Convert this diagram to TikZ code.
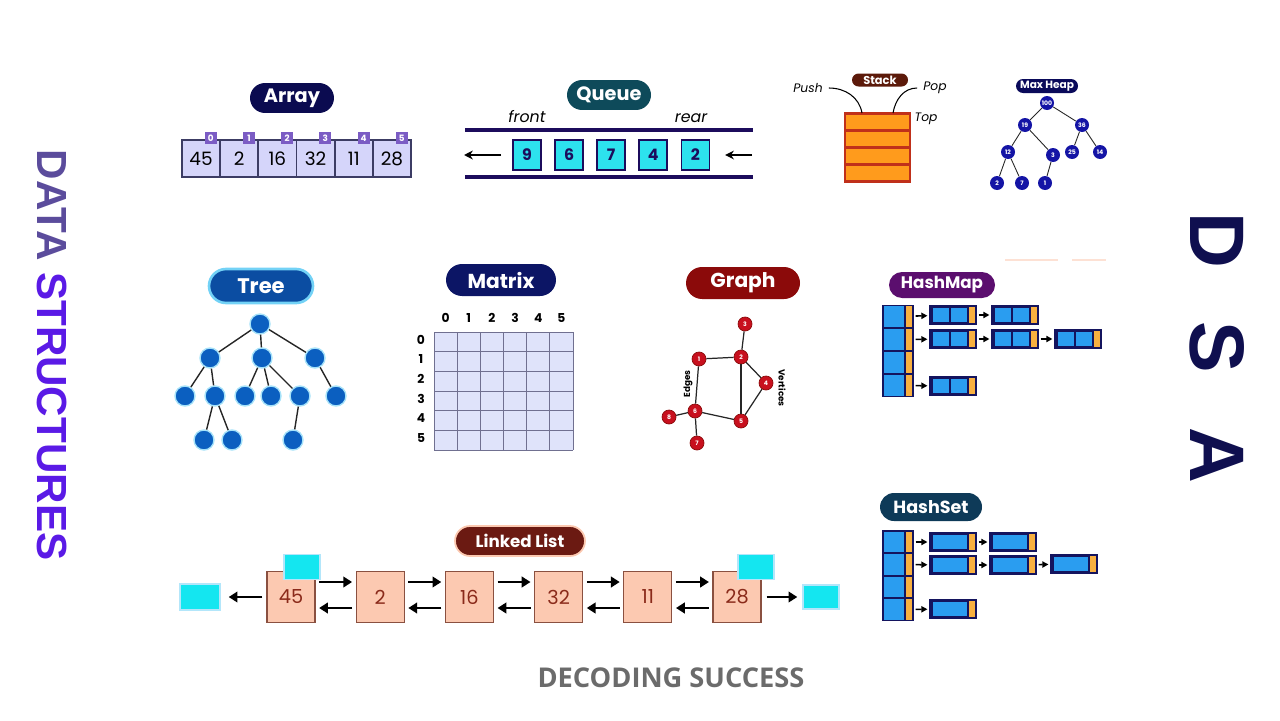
\documentclass[tikz,border=0pt]{standalone}
\usepackage{fontspec}
\setmainfont{Poppins}
\newfontfamily\arialfont{Liberation Sans}
\newfontfamily\opensans{Open Sans}
\usepackage{tikz}
\usetikzlibrary{positioning,arrows.meta}

\definecolor{arraynavy}{HTML}{0B0B50}
\definecolor{queueteal}{HTML}{0E4A5A}
\definecolor{stackbrown}{HTML}{5C1A0A}
\definecolor{heapnavy}{HTML}{0A0A5A}
\definecolor{treeblue}{HTML}{0B4DA2}
\definecolor{matrixnavy}{HTML}{0C1565}
\definecolor{graphred}{HTML}{8B0A0A}
\definecolor{hmpurple}{HTML}{5B0E6E}
\definecolor{hsteal}{HTML}{0E3A58}
\definecolor{llbrown}{HTML}{6B1A12}
\definecolor{cellfill}{HTML}{D5D5FA}
\definecolor{cellline}{HTML}{3C3C64}
\definecolor{idxpurple}{HTML}{7B5CC4}
\definecolor{qcyan}{HTML}{2DE2EE}
\definecolor{qline}{HTML}{1C0C5C}
\definecolor{stackorange}{HTML}{FF9B1C}
\definecolor{stackline}{HTML}{C0301A}
\definecolor{heapblue}{HTML}{1414A5}
\definecolor{treenode}{HTML}{0B5FC0}
\definecolor{mfill}{HTML}{DFE3FA}
\definecolor{mline}{HTML}{707090}
\definecolor{graphnode}{HTML}{C8101E}
\definecolor{hashblue}{HTML}{2A9DF0}
\definecolor{hashnavy}{HTML}{14145E}
\definecolor{hashorange}{HTML}{F8B040}
\definecolor{llpeach}{HTML}{FCC9B1}
\definecolor{llline}{HTML}{8A5040}
\definecolor{lltext}{HTML}{8A2A1A}
\definecolor{nullcyan}{HTML}{14E6F0}
\definecolor{datagray}{HTML}{5B4C9C}
\definecolor{structpurple}{HTML}{5A1AE6}
\definecolor{dsanavy}{HTML}{0F0F4F}
\definecolor{footgray}{HTML}{6B6B6B}

\newcommand\pairentry[3]{%
    \node [entry] (#1) at (#2,#3) {};
    \draw [sq] (#2-21,#3-8) rectangle (#2-3,#3+8);
    \draw [sq] (#2-3,#3-8) rectangle (#2+15,#3+8);
}
\newcommand\setentry[3]{%
    \node [entry] (#1) at (#2,#3) {};
    \draw [sq] (#2-21,#3-8) rectangle (#2+15,#3+8);
}
\newcommand\bucket[3]{%
    \node [bucketcell] (#1) at (#2,#3) {};
    \draw [sq] (#2-15,#3-11) rectangle (#2+7,#3+11);
}

\begin{document}
\begin{tikzpicture}
    [ x = .02cm, y = -.02cm
    , pill/.style =
      { rounded corners = #1/2, minimum height = #1, inner sep = 0pt
      , text = white, font = \bfseries\fontsize{11}{13}\selectfont }
    , acell/.style =
      { draw = cellline, fill = cellfill, line width = .8pt, minimum width = .76cm
      , minimum height = .74cm, inner sep = 0pt, font = \fontsize{10.5}{12}\selectfont }
    , idx/.style =
      { fill = idxpurple, minimum size = .24cm, inner sep = 0pt, text = white
      , font = \bfseries\fontsize{5}{5}\selectfont }
    , qbox/.style =
      { draw = qline, fill = qcyan, line width = .9pt, minimum width = .56cm
      , minimum height = .6cm, inner sep = 0pt, text = qline
      , font = \bfseries\fontsize{9}{10}\selectfont }
    , qarrow/.style =
      { -{Stealth[length=5pt,width=5pt]}, line width = 1.1pt }
    , scell/.style =
      { draw = stackline, fill = stackorange, line width = 1.3pt, outer sep = 0pt
      , minimum width = 1.3cm, minimum height = .34cm, inner sep = 0pt }
    , curve/.style =
      { line width = .6pt }
    , hnode/.style =
      { circle, fill = heapblue, minimum size = .28cm, inner sep = 0pt
      , text = white, font = \bfseries\fontsize{3.5}{4}\selectfont }
    , tnode/.style =
      { circle, fill = treenode, draw = cyan!35, line width = .8pt
      , minimum size = .4cm, inner sep = 0pt }
    , gnode/.style =
      { circle, fill = graphnode, draw = graphred, line width = .4pt
      , minimum size = .28cm, inner sep = 0pt, text = white
      , font = \bfseries\fontsize{3.5}{4}\selectfont }
    , edge/.style =
      { line width = .8pt, draw = black!85 }
    , mlab/.style =
      { font = \bfseries\fontsize{7}{8}\selectfont }
    , entry/.style =
      { draw = hashnavy, fill = hashorange, line width = .9pt
      , minimum width = .92cm, minimum height = .36cm, inner sep = 0pt }
    , bucketcell/.style =
      { draw = hashnavy, fill = hashorange, line width = .9pt
      , minimum width = .6cm, minimum height = .44cm, inner sep = 0pt }
    , sq/.style =
      { draw = hashnavy, fill = hashblue, line width = .9pt }
    , harrow/.style =
      { -{Triangle[length=3.5pt,width=3.5pt]}, line width = .9pt
      , shorten <= 1pt, shorten >= 1pt }
    , llnode/.style =
      { draw = llline, fill = llpeach, line width = .7pt, minimum width = .96cm
      , minimum height = 1.02cm, inner sep = 0pt, text = lltext
      , font = \fontsize{11}{12}\selectfont }
    , nullbox/.style =
      { fill = nullcyan, draw = cyan!30, line width = .8pt, inner sep = 0pt }
    , llarrow/.style =
      { -{Triangle[length=5pt,width=6pt]}, line width = 1.6pt
      , shorten <= 2pt, shorten >= 2pt }
    ]
    \useasboundingbox (0,0) rectangle (1280,720);

    \node [pill=.6cm, fill=arraynavy, minimum width=1.68cm] (arraylbl) at (292,98) {Array};
    \foreach \v [count=\i from 0] in {45,2,16,32,11,28}
      { \node [acell] (a\i) at (201+\i*38.2,158.5) {\v};
        \node [idx] (i\i) at ([xshift=-.2cm,yshift=.02cm]a\i.north east) {\i}; }

    \node [pill=.6cm, fill=queueteal, minimum width=1.68cm] (queuelbl) at (609,95) {Queue};
    \node [font=\itshape\fontsize{9}{10}\selectfont] (front) at (527,117) {front};
    \node [font=\itshape\fontsize{9}{10}\selectfont] (rear) at (691,118) {rear};
    \draw [qline, line width=1.8pt] (465,130) -- (753,130);
    \draw [qline, line width=1.8pt] (465,177) -- (753,177);
    \node [qbox] (q1) at (527,155) {9};
    \node [qbox] (q2) [right=.25cm of q1] {6};
    \node [qbox] (q3) [right=.25cm of q2] {7};
    \node [qbox] (q4) [right=.25cm of q3] {4};
    \node [qbox] (q5) [right=.25cm of q4] {2};
    \coordinate (qfront) at (464,155);
    \coordinate (qrear) at (752,155);
    \draw [qarrow, shorten <=.22cm] (q1) -- (qfront);
    \draw [qarrow, shorten >=.3cm] (qrear) -- (q5);

    \node [pill=.26cm, fill=stackbrown, minimum width=1.12cm, font=\bfseries\fontsize{6.5}{7}\selectfont] (stacklbl) at (880,80) {Stack};
    \node [scell] (s1) at (877.5,122) {};
    \node [scell] (s2) [below=0pt of s1] {};
    \node [scell] (s3) [below=0pt of s2] {};
    \node [scell] (s4) [below=0pt of s3] {};
    \node [font=\itshape\fontsize{7}{8}\selectfont] (push) at (808,88) {Push};
    \node [font=\itshape\fontsize{7}{8}\selectfont] (pop) at (935,88) {Pop};
    \node [font=\itshape\fontsize{7}{8}\selectfont] (toplbl) at (926,119) {Top};
    \coordinate (pushin) at (862,113);
    \coordinate (popin) at (893,113);
    \draw [curve] (push.east) to [out=0, in=100] (pushin);
    \draw [curve] (pop.west) to [out=180, in=80] (popin);

    \node [pill=.28cm, fill=heapnavy, minimum width=1.24cm, font=\bfseries\fontsize{6}{7}\selectfont] (heaplbl) at (1047,86) {Max Heap};
    \node [hnode] (h100) at (1047,103) {100};
    \node [hnode] (h19) at (1025,125) {19};
    \node [hnode] (h36) at (1082,125) {36};
    \node [hnode] (h12) at (1008,152) {12};
    \node [hnode] (h3) at (1053,155) {3};
    \node [hnode] (h25) at (1072,152) {25};
    \node [hnode] (h14) at (1100,152) {14};
    \node [hnode] (h2) at (997,183) {2};
    \node [hnode] (h7) at (1022,183) {7};
    \node [hnode] (h1) at (1045,183) {1};
    \draw [edge, line width=.5pt] (h100) -- (h19);
    \draw [edge, line width=.5pt] (h100) -- (h36);
    \draw [edge, line width=.5pt] (h19) -- (h12);
    \draw [edge, line width=.5pt] (h19) -- (h3);
    \draw [edge, line width=.5pt] (h36) -- (h25);
    \draw [edge, line width=.5pt] (h36) -- (h14);
    \draw [edge, line width=.5pt] (h12) -- (h2);
    \draw [edge, line width=.5pt] (h12) -- (h7);
    \draw [edge, line width=.5pt] (h3) -- (h1);

    \node [pill=.68cm, fill=treeblue, draw=cyan!55, line width=1.5pt, minimum width=2.08cm, font=\bfseries\fontsize{12}{14}\selectfont] (treelbl) at (261,286) {Tree};
    \node [tnode] (t0) at (260,324) {};
    \node [tnode] (t1) at (210,358) {};
    \node [tnode] (t2) at (262,358) {};
    \node [tnode] (t3) at (315,358) {};
    \node [tnode] (t4) at (185,396) {};
    \node [tnode] (t5) at (215,396) {};
    \node [tnode] (t6) at (245,396) {};
    \node [tnode] (t7) at (271,396) {};
    \node [tnode] (t8) at (300,396) {};
    \node [tnode] (t9) at (336,396) {};
    \node [tnode] (t10) at (204,440) {};
    \node [tnode] (t11) at (232,440) {};
    \node [tnode] (t12) at (293,440) {};
    \foreach \a/\b in {t0/t1,t0/t2,t0/t3,t1/t4,t1/t5,t2/t6,t2/t7,t2/t8,t3/t9,t5/t10,t5/t11,t8/t12}
      \draw [edge] (\a) -- (\b);

    \node [pill=.64cm, fill=matrixnavy, minimum width=2.2cm, font=\bfseries\fontsize{11.5}{13}\selectfont] (matrixlbl) at (501,280) {Matrix};
    \fill [mfill] (434,332) rectangle (573,450);
    \foreach \i in {0,...,6}
      { \draw [mline, line width=.5pt] (434+\i*23.17,332) -- (434+\i*23.17,450);
        \draw [mline, line width=.5pt] (434,332+\i*19.67) -- (573,332+\i*19.67); }
    \foreach \i in {0,...,5}
      { \node [mlab] (col\i) at (445.6+\i*23.17,318) {\i};
        \node [mlab] (row\i) at (421,340+\i*19.5) {\i}; }

    \node [pill=.64cm, fill=graphred, minimum width=2.28cm, font=\bfseries\fontsize{11.5}{13}\selectfont] (graphlbl) at (743,283) {Graph};
    \node [gnode] (g3) at (745,324) {3};
    \node [gnode] (g1) at (699,359) {1};
    \node [gnode] (g2) at (741,357) {2};
    \node [gnode] (g4) at (766,383) {4};
    \node [gnode] (g6) at (695,411) {6};
    \node [gnode] (g5) at (741,421) {5};
    \node [gnode] (g8) at (669,417) {8};
    \node [gnode] (g7) at (697,443) {7};
    \foreach \a/\b in {g3/g2,g1/g2,g1/g6,g2/g5,g2/g4,g4/g5,g6/g5,g6/g8,g6/g7}
      \draw [edge, line width=.7pt] (\a) -- (\b);
    \node [rotate=90, font=\bfseries\fontsize{5}{6}\selectfont] (edgeslbl) at (688,384) {Edges};
    \node [rotate=-90, font=\bfseries\fontsize{5}{6}\selectfont] (vertlbl) at (782,388) {Vertices};

    \draw [llpeach!55, line width=.8pt] (1005,260) -- (1058,260);
    \draw [llpeach!55, line width=.8pt] (1072,260) -- (1106,260);
    \node [pill=.52cm, fill=hmpurple, minimum width=2.12cm, font=\bfseries\fontsize{9.5}{11}\selectfont] (hashmaplbl) at (942,285) {HashMap};
    \bucket{mb1}{898}{316.5}
    \bucket{mb2}{898}{339.5}
    \bucket{mb3}{898}{362.5}
    \bucket{mb4}{898}{385.5}
    \pairentry{m11}{953}{315}
    \pairentry{m12}{1015}{315}
    \pairentry{m21}{953}{339}
    \pairentry{m22}{1015}{339}
    \pairentry{m23}{1078}{339}
    \pairentry{m41}{953}{386}
    \draw [harrow] (mb1) -- (m11);
    \draw [harrow] (m11) -- (m12);
    \draw [harrow] (mb2) -- (m21);
    \draw [harrow] (m21) -- (m22);
    \draw [harrow] (m22) -- (m23);
    \draw [harrow] (mb4) -- (m41);

    \node [pill=.56cm, fill=hsteal, minimum width=2.04cm, font=\bfseries\fontsize{10}{12}\selectfont] (hashsetlbl) at (931,507) {HashSet};
    \bucket{sb1}{898}{542}
    \bucket{sb2}{898}{564.5}
    \bucket{sb3}{898}{587}
    \bucket{sb4}{898}{609.5}
    \setentry{e11}{953}{542}
    \setentry{e12}{1013}{542}
    \setentry{e21}{953}{565}
    \setentry{e22}{1013}{565}
    \setentry{e23}{1074}{564}
    \setentry{e41}{953}{609}
    \draw [harrow] (sb1) -- (e11);
    \draw [harrow] (e11) -- (e12);
    \draw [harrow] (sb2) -- (e21);
    \draw [harrow] (e21) -- (e22);
    \draw [harrow] (e22) -- (e23);
    \draw [harrow] (sb4) -- (e41);

    \node [pill=.6cm, fill=llbrown, draw=llpeach, line width=1pt, minimum width=2.6cm, font=\bfseries\fontsize{9.5}{11}\selectfont] (linkedlbl) at (520,541) {Linked List};
    \node [llnode] (l1) at (291,597) {45};
    \node [llnode] (l2) [right=.8cm of l1] {2};
    \node [llnode] (l3) [right=.8cm of l2] {16};
    \node [llnode] (l4) [right=.8cm of l3] {32};
    \node [llnode] (l5) [right=.8cm of l4] {11};
    \node [llnode] (l6) [right=.8cm of l5] {28};
    \foreach \a/\b in {l1/l2,l2/l3,l3/l4,l4/l5,l5/l6}
      { \draw [llarrow] ([yshift=.3cm]\a.east) -- ([yshift=.3cm]\b.west);
        \draw [llarrow] ([yshift=-.22cm]\b.west) -- ([yshift=-.22cm]\a.east); }
    \node [nullbox, minimum width=.72cm, minimum height=.5cm] (head) at (302,567) {};
    \node [nullbox, minimum width=.72cm, minimum height=.5cm] (tail) at (756,567) {};
    \node [nullbox, minimum width=.8cm, minimum height=.52cm] (nullL) at (200,597) {};
    \node [nullbox, minimum width=.72cm, minimum height=.48cm] (nullR) at (821,597) {};
    \draw [llarrow, shorten <=.08cm, shorten >=.16cm] (l1) -- (nullL);
    \draw [llarrow, shorten <=.1cm, shorten >=.1cm] (l6) -- (nullR);

    \node [rotate=-90, font=\arialfont\bfseries\fontsize{24}{24}\selectfont] (title) at (52,355)
      {\textcolor{datagray}{DATA} \textcolor{structpurple}{STRUCTURES}};
    \node [rotate=-90, text=dsanavy, font=\arialfont\bfseries\fontsize{44}{44}\selectfont] (dsaD) at (1217,240) {D};
    \node [rotate=-90, text=dsanavy, font=\arialfont\bfseries\fontsize{44}{44}\selectfont] (dsaS) at (1217,347) {S};
    \node [rotate=-90, text=dsanavy, font=\arialfont\bfseries\fontsize{44}{44}\selectfont] (dsaA) at (1217,455) {A};
    \node [text=footgray, font=\opensans\bfseries\fontsize{15.5}{17}\selectfont] (footer) at (671,678) {DECODING SUCCESS};
\end{tikzpicture}
\end{document}
